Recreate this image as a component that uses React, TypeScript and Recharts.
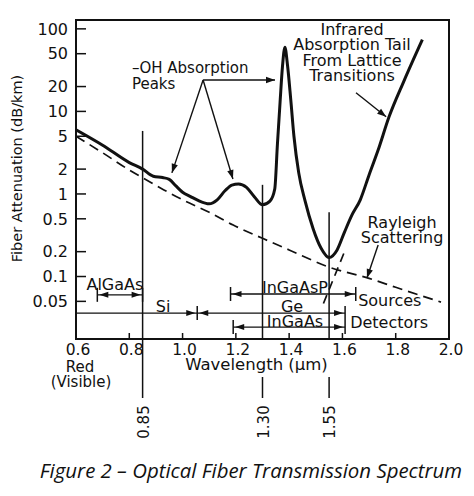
import {
  ComposedChart,
  Line,
  XAxis,
  YAxis,
  Label,
  ReferenceArea,
  ReferenceDot,
  ReferenceLine,
} from "recharts";

const FONT = "DejaVu Sans";
const INK = "#111";

// axis setup (log attenuation scale)
const Y_MIN = 0.0175;
const Y_MAX = 128;
const X_TICKS = [0.6, 0.8, 0.85, 1.0, 1.2, 1.3, 1.4, 1.55, 1.6, 1.8, 2.0];
const Y_TICKS = [0.05, 0.1, 0.2, 0.5, 1, 2, 5, 10, 20, 50, 100];

// transmission windows
const windows = [0.85, 1.3, 1.55];
const windowTop = [5.8, 1.29, 0.6];

// measured fiber loss curve
const fiberWavelength = [
  0.6, 0.7, 0.8, 0.85, 0.89, 0.925, 0.95, 0.975, 1.0, 1.03, 1.06, 1.1, 1.13, 1.16, 1.185,
  1.21, 1.24, 1.27, 1.3, 1.328, 1.346, 1.356, 1.366, 1.375, 1.384, 1.394, 1.406, 1.418,
  1.436, 1.46, 1.49, 1.52, 1.55, 1.58, 1.607, 1.635, 1.667, 1.7, 1.734, 1.775, 1.83, 1.9,
];
const fiberLoss = [
  6.0, 3.9, 2.4, 2.0, 1.64, 1.58, 1.5, 1.25, 1.05, 0.93, 0.83, 0.76, 0.85, 1.1, 1.28,
  1.32, 1.2, 0.92, 0.74, 0.82, 1.15, 4.0, 13, 35, 60, 36, 14, 5, 1.8, 0.82, 0.38, 0.22,
  0.17, 0.21, 0.34, 0.55, 0.85, 1.7, 3.4, 8.6, 23, 74,
];

// rayleigh scattering limit (dashed)
const rayleighWavelength = [0.6, 0.7, 0.8, 0.85, 0.93, 1.0, 1.1, 1.19, 1.3, 1.4, 1.55, 1.7, 1.8, 1.97];
const rayleighLoss = [5.0, 3.15, 1.95, 1.57, 1.12, 0.85, 0.6, 0.42, 0.29, 0.21, 0.13, 0.095, 0.074, 0.049];

// infrared tail extrapolated below the minimum (dashed)
const irTailWavelength = [1.605, 1.525];
const irTailLoss = [0.19, 0.044];

const fiberData = fiberWavelength.map((w, i) => ({ w, loss: fiberLoss[i] }));
const rayleighData = rayleighWavelength.map((w, i) => ({ w, loss: rayleighLoss[i] }));
const irTailData = irTailWavelength.map((w, i) => ({ w, loss: irTailLoss[i] }));

// sources / detectors wavelength ranges
const bandName = ["AlGaAs", "InGaAsP", "Si", "Ge", "InGaAs"];
const bandFrom = [0.68, 1.18, 0.6, 1.055, 1.19];
const bandTo = [0.85, 1.65, 1.055, 1.61, 1.61];
const bandLevel = [0.06, 0.0614, 0.0361, 0.0361, 0.0244];
const bandLabelW = [0.746, 1.422, 0.927, 1.411, 1.422];
const bandLabelLoss = [0.081, 0.0746, 0.0439, 0.0439, 0.0289];
const bandStartCap = [true, true, false, false, true];
const bandStartArrow = [true, true, false, true, true];

// annotation arrows: from -> to
const arrowFrom = [
  { w: 1.077, loss: 24 },
  { w: 1.077, loss: 24 },
  { w: 1.077, loss: 24 },
  { w: 1.651, loss: 16.8 },
  { w: 1.734, loss: 0.241 },
];
const arrowTo = [
  { w: 0.96, loss: 1.8 },
  { w: 1.189, loss: 1.52 },
  { w: 1.347, loss: 24 },
  { w: 1.764, loss: 8.6 },
  { w: 1.692, loss: 0.096 },
];

const noteText = [
  "–OH Absorption",
  "Peaks",
  "Infrared",
  "Absorption Tail",
  "From Lattice",
  "Transitions",
  "Rayleigh",
  "Scattering",
  "Sources",
  "Detectors",
];
const noteW = [0.81, 0.81, 1.636, 1.636, 1.636, 1.636, 1.824, 1.824, 1.659, 1.629];
const noteLoss = [33.7, 21.5, 100, 65.8, 42.1, 27.7, 0.458, 0.301, 0.0519, 0.0281];
const noteAnchor = ["start", "start", "middle", "middle", "middle", "middle", "middle", "middle", "start", "start"];
const noteSize = [15, 15, 16, 16, 16, 16, 16, 16, 16, 16];

function head(x1: number, y1: number, x2: number, y2: number, len = 9, half = 3.2) {
  const a = Math.atan2(y2 - y1, x2 - x1);
  const bx = x2 - len * Math.cos(a);
  const by = y2 - len * Math.sin(a);
  const px = -Math.sin(a) * half;
  const py = Math.cos(a) * half;
  return `${x2},${y2} ${bx + px},${by + py} ${bx - px},${by - py}`;
}

const pointer = (p: any) => (
  <g>
    <line x1={p.x1} y1={p.y1} x2={p.x2} y2={p.y2} stroke={INK} strokeWidth={1.4} />
    <polygon points={head(p.x1, p.y1, p.x2, p.y2)} fill={INK} />
  </g>
);

const bandShape = (capStart: boolean, arrowStart: boolean) => (p: any) => {
  const { x1, x2, y1 } = p;
  return (
    <g>
      <line x1={x1} y1={y1} x2={x2} y2={y1} stroke={INK} strokeWidth={1.3} />
      {arrowStart && <polygon points={head(x2, y1, x1 + 2, y1, 9, 3)} fill={INK} />}
      {capStart && <line x1={x1} x2={x1} y1={y1 - 7} y2={y1 + 7} stroke={INK} strokeWidth={1.5} />}
      <polygon points={head(x1, y1, x2 - 2, y1, 9, 3)} fill={INK} />
      <line x1={x2} x2={x2} y1={y1 - 7} y2={y1 + 7} stroke={INK} strokeWidth={1.5} />
    </g>
  );
};

const textShape = (text: string, anchor: string, size: number) => (p: any) => (
  <text
    x={p.cx}
    y={p.cy}
    dy="0.36em"
    textAnchor={anchor}
    fontSize={size}
    fontFamily={FONT}
    fill={INK}
  >
    {text}
  </text>
);

function YTick({ x, y, payload }: any) {
  return (
    <g>
      <line x1={x} x2={x + 10} y1={y} y2={y} stroke={INK} strokeWidth={1.5} />
      <text x={x - 8} y={y} dy="0.36em" textAnchor="end" fontSize={16} fontFamily={FONT} fill={INK}>
        {payload.value}
      </text>
    </g>
  );
}

function XTick({ x, y, payload }: any) {
  const v = payload.value as number;
  if (windows.includes(v)) {
    return (
      <g>
        <line x1={x} x2={x} y1={v === 0.85 ? y : y + 38} y2={y + 59} stroke={INK} strokeWidth={1.5} />
        <text
          transform={`translate(${x + 6},${y + 83}) rotate(-90)`}
          textAnchor="middle"
          fontSize={15}
          fontFamily={FONT}
          fill={INK}
        >
          {v.toFixed(2)}
        </text>
      </g>
    );
  }
  return (
    <g>
      {v > 0.6 && v < 2.0 && <line x1={x} x2={x} y1={y} y2={y - 6} stroke={INK} strokeWidth={1.5} />}
      <text x={x + 2} y={y + 16} textAnchor="middle" fontSize={15.5} fontFamily={FONT} fill={INK}>
        {v.toFixed(1)}
      </text>
      {v === 0.6 && (
        <text x={x + 4} y={y + 33} textAnchor="middle" fontSize={15} fontFamily={FONT} fill={INK}>
          Red
        </text>
      )}
      {v === 0.6 && (
        <text x={x + 5} y={y + 48} textAnchor="middle" fontSize={15} fontFamily={FONT} fill={INK}>
          (Visible)
        </text>
      )}
    </g>
  );
}

export default function App() {
  return (
    <div style={{ position: "absolute", left: 0, top: 0, width: 474, height: 496, background: "#fff" }}>
      <ComposedChart width={474} height={496} margin={{ top: 20, right: 25, bottom: 127, left: 16 }}>
        <XAxis
          dataKey="w"
          type="number"
          domain={[0.6, 2.0]}
          ticks={X_TICKS}
          interval={0}
          allowDataOverflow
          tickSize={0}
          tickMargin={0}
          tickLine={false}
          tick={<XTick />}
          height={30}
          axisLine={{ stroke: INK, strokeWidth: 2 }}
        >
          <Label
            content={({ viewBox }: any) => (
              <text
                x={viewBox.x + viewBox.width / 2 - 6}
                y={viewBox.y + 31}
                textAnchor="middle"
                fontSize={16.5}
                fontFamily={FONT}
                fill={INK}
              >
                Wavelength (μm)
              </text>
            )}
          />
        </XAxis>
        <YAxis
          type="number"
          scale="log"
          domain={[Y_MIN, Y_MAX]}
          ticks={Y_TICKS}
          interval={0}
          allowDataOverflow
          width={60}
          tickSize={0}
          tickMargin={0}
          tickLine={false}
          tick={<YTick />}
          axisLine={{ stroke: INK, strokeWidth: 2 }}
        >
          <Label
            content={({ viewBox }: any) => (
              <text
                transform={`translate(${viewBox.x + 6},${viewBox.y + viewBox.height / 2 - 11}) rotate(-90)`}
                textAnchor="middle"
                fontSize={14.5}
                fontFamily={FONT}
                fill={INK}
              >
                Fiber Attenuation (dB/km)
              </text>
            )}
          />
        </YAxis>

        <ReferenceArea x1={0.6} x2={2.0} y1={Y_MIN} y2={Y_MAX} fill="none" stroke={INK} strokeWidth={2} />

        {windows.map((w, i) => (
          <ReferenceLine
            key={`win-${w}`}
            segment={[
              { x: w, y: windowTop[i] },
              { x: w, y: Y_MIN },
            ]}
            stroke={INK}
            strokeWidth={1.5}
          />
        ))}

        <Line
          data={rayleighData}
          dataKey="loss"
          type="monotone"
          dot={false}
          stroke={INK}
          strokeWidth={1.7}
          strokeDasharray="10 6"
          isAnimationActive={false}
        />
        <Line
          data={irTailData}
          dataKey="loss"
          type="linear"
          dot={false}
          stroke={INK}
          strokeWidth={1.7}
          strokeDasharray="9 6"
          isAnimationActive={false}
        />
        <Line
          data={fiberData}
          dataKey="loss"
          type="monotone"
          dot={false}
          stroke={INK}
          strokeWidth={3}
          isAnimationActive={false}
        />

        {bandName.map((name, i) => (
          <ReferenceLine
            key={`band-${name}`}
            segment={[
              { x: bandFrom[i], y: bandLevel[i] },
              { x: bandTo[i], y: bandLevel[i] },
            ]}
            shape={bandShape(bandStartCap[i], bandStartArrow[i])}
          />
        ))}
        {bandName.map((name, i) => (
          <ReferenceDot
            key={`bandlbl-${name}`}
            x={bandLabelW[i]}
            y={bandLabelLoss[i]}
            r={0}
            shape={textShape(name, "middle", 16)}
          />
        ))}

        {arrowFrom.map((a, i) => (
          <ReferenceLine
            key={`arrow-${i}`}
            segment={[
              { x: a.w, y: a.loss },
              { x: arrowTo[i].w, y: arrowTo[i].loss },
            ]}
            shape={pointer}
          />
        ))}

        {noteText.map((t, i) => (
          <ReferenceDot
            key={`note-${i}`}
            x={noteW[i]}
            y={noteLoss[i]}
            r={0}
            shape={textShape(t, noteAnchor[i], noteSize[i])}
          />
        ))}
      </ComposedChart>
      <svg width={474} height={496} style={{ position: "absolute", left: 0, top: 0, pointerEvents: "none" }}>
        <text x={251} y={478} textAnchor="middle" fontSize={20.4} fontStyle="italic" fontFamily="Open Sans" fill={INK}>
          Figure 2 – Optical Fiber Transmission Spectrum
        </text>
      </svg>
    </div>
  );
}
